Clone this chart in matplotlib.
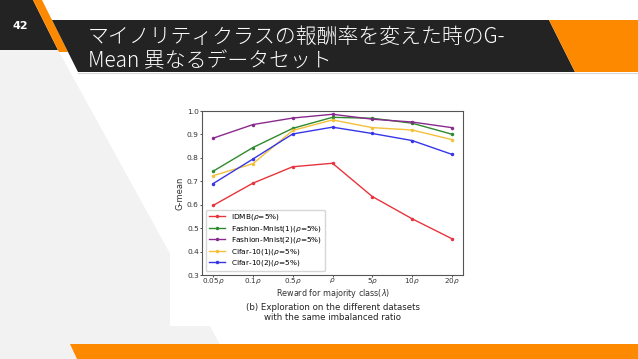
import numpy as np
import matplotlib.pyplot as plt
from matplotlib.patches import Polygon, Rectangle

# data
labels = ['0.05$\\rho$', '0.1$\\rho$', '0.5$\\rho$', '$\\rho$', '5$\\rho$', '10$\\rho$', '20$\\rho$']
idmb = [0.597, 0.692, 0.762, 0.777, 0.635, 0.540, 0.455]
fmnist1 = [0.743, 0.844, 0.926, 0.973, 0.969, 0.948, 0.901]
fmnist2 = [0.884, 0.942, 0.970, 0.986, 0.965, 0.953, 0.929]
cifar1 = [0.724, 0.775, 0.917, 0.962, 0.929, 0.919, 0.878]
cifar2 = [0.690, 0.795, 0.902, 0.931, 0.904, 0.874, 0.815]

series = [
    ('IDMB($\\rho$=5%)', idmb, '#e8343c'),
    ('Fashion-Mnist(1)($\\rho$=5%)', fmnist1, '#2f8a2f'),
    ('Fashion-Mnist(2)($\\rho$=5%)', fmnist2, '#8a2a8e'),
    ('Cifar-10(1)($\\rho$=5%)', cifar1, '#f4c03a'),
    ('Cifar-10(2)($\\rho$=5%)', cifar2, '#3636e8'),
]

title1 = 'マイノリティクラスの報酬率を変えた時のG-'
title2 = 'Mean 異なるデータセット'
page = '42'

W, H = 638, 359
fig = plt.figure(figsize=(W / 100, H / 100), dpi=100)
fig.patch.set_facecolor('white')

# slide background drawn in pixel coords
bg = fig.add_axes([0, 0, 1, 1])
bg.set_xlim(0, W)
bg.set_ylim(H, 0)
bg.axis('off')

dark = '#232323'
orange = '#fd8900'
gray = '#f2f2f2'

bg.add_patch(Polygon([(0, 50), (58, 50), (228, 359), (0, 359)], color=gray, lw=0))
bg.add_patch(Rectangle((170, 90), 310, 236, color='white', lw=0))
bg.add_patch(Polygon([(70, 344), (W, 344), (W, H), (77, H)], color=orange, lw=0))
bg.add_patch(Polygon([(0, 0), (33, 0), (58, 50), (0, 50)], color=dark, lw=0))
bg.add_patch(Polygon([(33, 0), (42, 0), (68, 52), (59, 52)], color=orange, lw=0))
bg.add_patch(Polygon([(52, 20), (549, 20), (575, 72), (78, 72)], color=dark, lw=0))
bg.add_patch(Polygon([(549, 20), (W, 20), (W, 72), (575, 72)], color=orange, lw=0))
bg.plot([78, W], [73, 73], color='#d8d8d8', lw=0.8)

bg.text(20, 26, page, color='white', fontsize=8, fontweight='bold',
        ha='center', va='center')
jp = ['Noto Sans CJK JP', 'DejaVu Sans']
bg.text(88, 37, title1, color='white', fontsize=15, family=jp, weight='light',
        ha='left', va='center')
bg.text(88, 61, title2, color='white', fontsize=15, family=jp, weight='light',
        ha='left', va='center')

# chart
ax = fig.add_axes([202 / W, (H - 275) / H, 261 / W, 164 / H])
x = np.arange(len(labels))
for name, vals, col in series:
    ax.plot(x, vals, color=col, marker='.', markersize=3, lw=1, label=name)

ax.set_xlim(-0.28, 6.28)
ax.set_ylim(0.3, 1.0)
ax.set_xticks(x)
ax.set_xticklabels(labels)
ax.set_yticks(np.arange(0.3, 1.01, 0.1))
ax.set_yticklabels(['%.1f' % v for v in np.arange(0.3, 1.01, 0.1)])
ax.tick_params(labelsize=5.4, colors='#333333', length=1.5, width=0.6, pad=0.8)
ax.tick_params(axis='x', labelsize=5.2, pad=-0.5)
for s in ax.spines.values():
    s.set_color('#555555')
    s.set_linewidth(0.8)
ax.set_ylabel('G-mean', fontsize=6, color='#333333', labelpad=2)
ax.legend(loc='lower left', fontsize=5.3, frameon=True, edgecolor='#cccccc',
          handlelength=2.2, borderpad=0.4, labelspacing=0.2, fancybox=True)

bg.text(333, 293, 'Reward for majority class($\\lambda$)', fontsize=5.8,
        color='#333333', ha='center', va='center')
bg.text(333, 307, '(b) Exploration on the different datasets', fontsize=6.2,
        color='#222222', ha='center', va='center')
bg.text(333, 318, 'with the same imbalanced ratio', fontsize=6.2,
        color='#222222', ha='center', va='center')

fig.savefig('out.png', dpi=100)
